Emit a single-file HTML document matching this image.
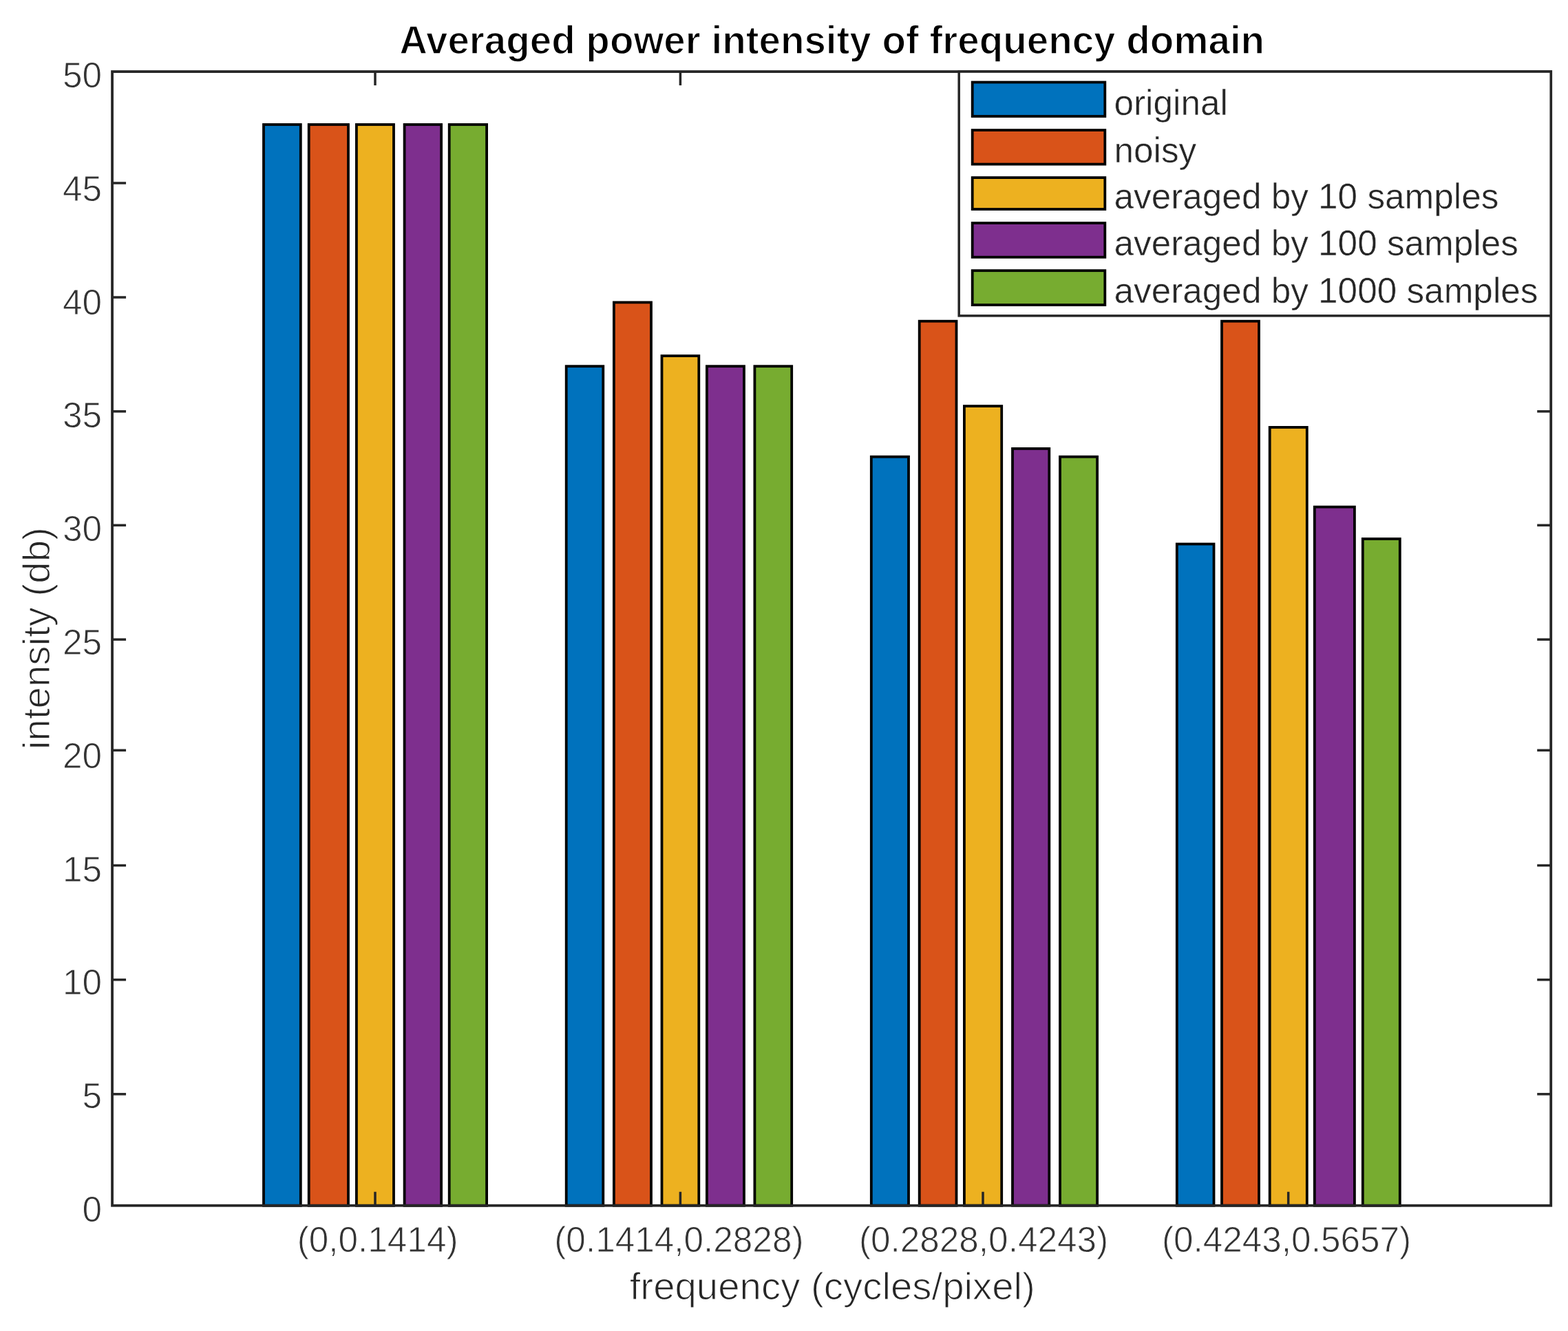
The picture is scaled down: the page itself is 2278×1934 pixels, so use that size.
<!DOCTYPE html><html><head><meta charset="utf-8"><title>Averaged power intensity of frequency domain</title>
<style>html,body{margin:0;padding:0;background:#fff;}body{width:2278px;height:1934px;overflow:hidden;}svg{display:block;}text{font-family:"Liberation Sans",Arial,Helvetica,sans-serif;fill:#262626;}text.tk{fill:#333;stroke:#fff;stroke-width:0.9px;}text.lb{stroke:#fff;stroke-width:1.2px;}text.lg{stroke:#fff;stroke-width:0.5px;}</style></head><body>
<svg width="2278" height="1934" viewBox="0 0 2278 1934">
<rect x="0" y="0" width="2278" height="1934" fill="#fff"/>
<rect x="383.0" y="181.0" width="53.8" height="1570.8" fill="#0072BD" stroke="#000" stroke-width="3.8"/>
<rect x="448.7" y="181.0" width="57.3" height="1570.8" fill="#D95319" stroke="#000" stroke-width="3.8"/>
<rect x="517.9" y="181.0" width="54.1" height="1570.8" fill="#EDB120" stroke="#000" stroke-width="3.8"/>
<rect x="587.6" y="181.0" width="53.5" height="1570.8" fill="#7E2F8E" stroke="#000" stroke-width="3.8"/>
<rect x="652.7" y="181.0" width="54.4" height="1570.8" fill="#77AC30" stroke="#000" stroke-width="3.8"/>
<rect x="822.7" y="532.2" width="53.6" height="1219.5" fill="#0072BD" stroke="#000" stroke-width="3.8"/>
<rect x="891.9" y="439.4" width="54.1" height="1312.3" fill="#D95319" stroke="#000" stroke-width="3.8"/>
<rect x="961.5" y="517.1" width="53.8" height="1234.6" fill="#EDB120" stroke="#000" stroke-width="3.8"/>
<rect x="1026.9" y="532.2" width="54.1" height="1219.5" fill="#7E2F8E" stroke="#000" stroke-width="3.8"/>
<rect x="1096.4" y="532.2" width="53.8" height="1219.5" fill="#77AC30" stroke="#000" stroke-width="3.8"/>
<rect x="1265.8" y="663.7" width="54.2" height="1088.0" fill="#0072BD" stroke="#000" stroke-width="3.8"/>
<rect x="1335.7" y="466.7" width="53.8" height="1285.0" fill="#D95319" stroke="#000" stroke-width="3.8"/>
<rect x="1400.9" y="590.1" width="54.3" height="1161.6" fill="#EDB120" stroke="#000" stroke-width="3.8"/>
<rect x="1471.0" y="651.9" width="53.3" height="1099.8" fill="#7E2F8E" stroke="#000" stroke-width="3.8"/>
<rect x="1540.0" y="663.7" width="54.1" height="1088.0" fill="#77AC30" stroke="#000" stroke-width="3.8"/>
<rect x="1709.8" y="790.5" width="53.7" height="961.2" fill="#0072BD" stroke="#000" stroke-width="3.8"/>
<rect x="1775.0" y="466.7" width="54.0" height="1285.0" fill="#D95319" stroke="#000" stroke-width="3.8"/>
<rect x="1844.7" y="620.9" width="54.1" height="1130.8" fill="#EDB120" stroke="#000" stroke-width="3.8"/>
<rect x="1909.8" y="736.6" width="58.1" height="1015.1" fill="#7E2F8E" stroke="#000" stroke-width="3.8"/>
<rect x="1979.8" y="783.0" width="54.0" height="968.8" fill="#77AC30" stroke="#000" stroke-width="3.8"/>
<rect x="163.05" y="104.05" width="2090.1499999999996" height="1647.7" fill="none" stroke="#262626" stroke-width="3.8"/>
<text x="148.0" y="1774.8" font-size="51.3" text-anchor="end" class="tk">0</text>
<line x1="163.05" y1="1589.8" x2="183.05" y2="1589.8" stroke="#262626" stroke-width="3.5"/>
<line x1="2253.2" y1="1589.8" x2="2233.2" y2="1589.8" stroke="#262626" stroke-width="3.5"/>
<text x="148.0" y="1610.0" font-size="51.3" text-anchor="end" class="tk">5</text>
<line x1="163.05" y1="1423.6" x2="183.05" y2="1423.6" stroke="#262626" stroke-width="3.5"/>
<line x1="2253.2" y1="1423.6" x2="2233.2" y2="1423.6" stroke="#262626" stroke-width="3.5"/>
<text x="148.0" y="1445.2" font-size="51.3" text-anchor="end" class="tk">10</text>
<line x1="163.05" y1="1257.5" x2="183.05" y2="1257.5" stroke="#262626" stroke-width="3.5"/>
<line x1="2253.2" y1="1257.5" x2="2233.2" y2="1257.5" stroke="#262626" stroke-width="3.5"/>
<text x="148.0" y="1280.5" font-size="51.3" text-anchor="end" class="tk">15</text>
<line x1="163.05" y1="1090.2" x2="183.05" y2="1090.2" stroke="#262626" stroke-width="3.5"/>
<line x1="2253.2" y1="1090.2" x2="2233.2" y2="1090.2" stroke="#262626" stroke-width="3.5"/>
<text x="148.0" y="1115.7" font-size="51.3" text-anchor="end" class="tk">20</text>
<line x1="163.05" y1="929.2" x2="183.05" y2="929.2" stroke="#262626" stroke-width="3.5"/>
<line x1="2253.2" y1="929.2" x2="2233.2" y2="929.2" stroke="#262626" stroke-width="3.5"/>
<text x="148.0" y="950.9" font-size="51.3" text-anchor="end" class="tk">25</text>
<line x1="163.05" y1="763.2" x2="183.05" y2="763.2" stroke="#262626" stroke-width="3.5"/>
<line x1="2253.2" y1="763.2" x2="2233.2" y2="763.2" stroke="#262626" stroke-width="3.5"/>
<text x="148.0" y="786.1" font-size="51.3" text-anchor="end" class="tk">30</text>
<line x1="163.05" y1="597.8" x2="183.05" y2="597.8" stroke="#262626" stroke-width="3.5"/>
<line x1="2253.2" y1="597.8" x2="2233.2" y2="597.8" stroke="#262626" stroke-width="3.5"/>
<text x="148.0" y="621.3" font-size="51.3" text-anchor="end" class="tk">35</text>
<line x1="163.05" y1="432.0" x2="183.05" y2="432.0" stroke="#262626" stroke-width="3.5"/>
<line x1="2253.2" y1="432.0" x2="2233.2" y2="432.0" stroke="#262626" stroke-width="3.5"/>
<text x="148.0" y="456.6" font-size="51.3" text-anchor="end" class="tk">40</text>
<line x1="163.05" y1="266.0" x2="183.05" y2="266.0" stroke="#262626" stroke-width="3.5"/>
<line x1="2253.2" y1="266.0" x2="2233.2" y2="266.0" stroke="#262626" stroke-width="3.5"/>
<text x="148.0" y="291.8" font-size="51.3" text-anchor="end" class="tk">45</text>
<text x="148.0" y="127.0" font-size="51.3" text-anchor="end" class="tk">50</text>
<line x1="545.0" y1="104.05" x2="545.0" y2="124.05" stroke="#262626" stroke-width="3.5"/>
<line x1="545.0" y1="1751.75" x2="545.0" y2="1731.75" stroke="#262626" stroke-width="3.5"/>
<text x="548.6" y="1819.0" font-size="51.3" text-anchor="middle" class="tk">(0,0.1414)</text>
<line x1="988.4" y1="104.05" x2="988.4" y2="124.05" stroke="#262626" stroke-width="3.5"/>
<line x1="988.4" y1="1751.75" x2="988.4" y2="1731.75" stroke="#262626" stroke-width="3.5"/>
<text x="986.4" y="1819.0" font-size="51.3" text-anchor="middle" class="tk">(0.1414,0.2828)</text>
<line x1="1428.0" y1="104.05" x2="1428.0" y2="124.05" stroke="#262626" stroke-width="3.5"/>
<line x1="1428.0" y1="1751.75" x2="1428.0" y2="1731.75" stroke="#262626" stroke-width="3.5"/>
<text x="1429.0" y="1819.0" font-size="51.3" text-anchor="middle" class="tk">(0.2828,0.4243)</text>
<line x1="1871.7" y1="104.05" x2="1871.7" y2="124.05" stroke="#262626" stroke-width="3.5"/>
<line x1="1871.7" y1="1751.75" x2="1871.7" y2="1731.75" stroke="#262626" stroke-width="3.5"/>
<text x="1869.0" y="1819.0" font-size="51.3" text-anchor="middle" class="tk">(0.4243,0.5657)</text>
<rect x="1393.2" y="104.05" width="859.9999999999998" height="354.8" fill="#fff" stroke="#262626" stroke-width="3.5"/>
<rect x="1412.7" y="119.5" width="192.6" height="49.5" fill="#0072BD" stroke="#000" stroke-width="3.8"/>
<text x="1618.5" y="166.6" font-size="51.3" class="lg">original</text>
<rect x="1412.7" y="189.1" width="192.6" height="49.5" fill="#D95319" stroke="#000" stroke-width="3.8"/>
<text x="1618.5" y="236.2" font-size="51.3" class="lg">noisy</text>
<rect x="1412.7" y="258.1" width="192.6" height="45.9" fill="#EDB120" stroke="#000" stroke-width="3.8"/>
<text x="1618.5" y="303.3" font-size="51.3" class="lg">averaged by 10 samples</text>
<rect x="1412.7" y="324.1" width="192.6" height="49.6" fill="#7E2F8E" stroke="#000" stroke-width="3.8"/>
<text x="1618.5" y="371.2" font-size="51.3" class="lg">averaged by 100 samples</text>
<rect x="1412.7" y="393.2" width="192.6" height="49.9" fill="#77AC30" stroke="#000" stroke-width="3.8"/>
<text x="1618.5" y="440.4" font-size="51.3" class="lg">averaged by 1000 samples</text>
<text x="1208.7" y="77.5" font-size="56.5" font-weight="bold" text-anchor="middle" style="fill:#000;stroke:#fff;stroke-width:1.4px">Averaged power intensity of frequency domain</text>
<text x="1209.3" y="1888" font-size="56.4" text-anchor="middle" class="lb">frequency (cycles/pixel)</text>
<text x="0" y="0" font-size="56.4" text-anchor="middle" transform="translate(72 927.6) rotate(-90)" class="lb">intensity (db)</text>
</svg></body></html>
